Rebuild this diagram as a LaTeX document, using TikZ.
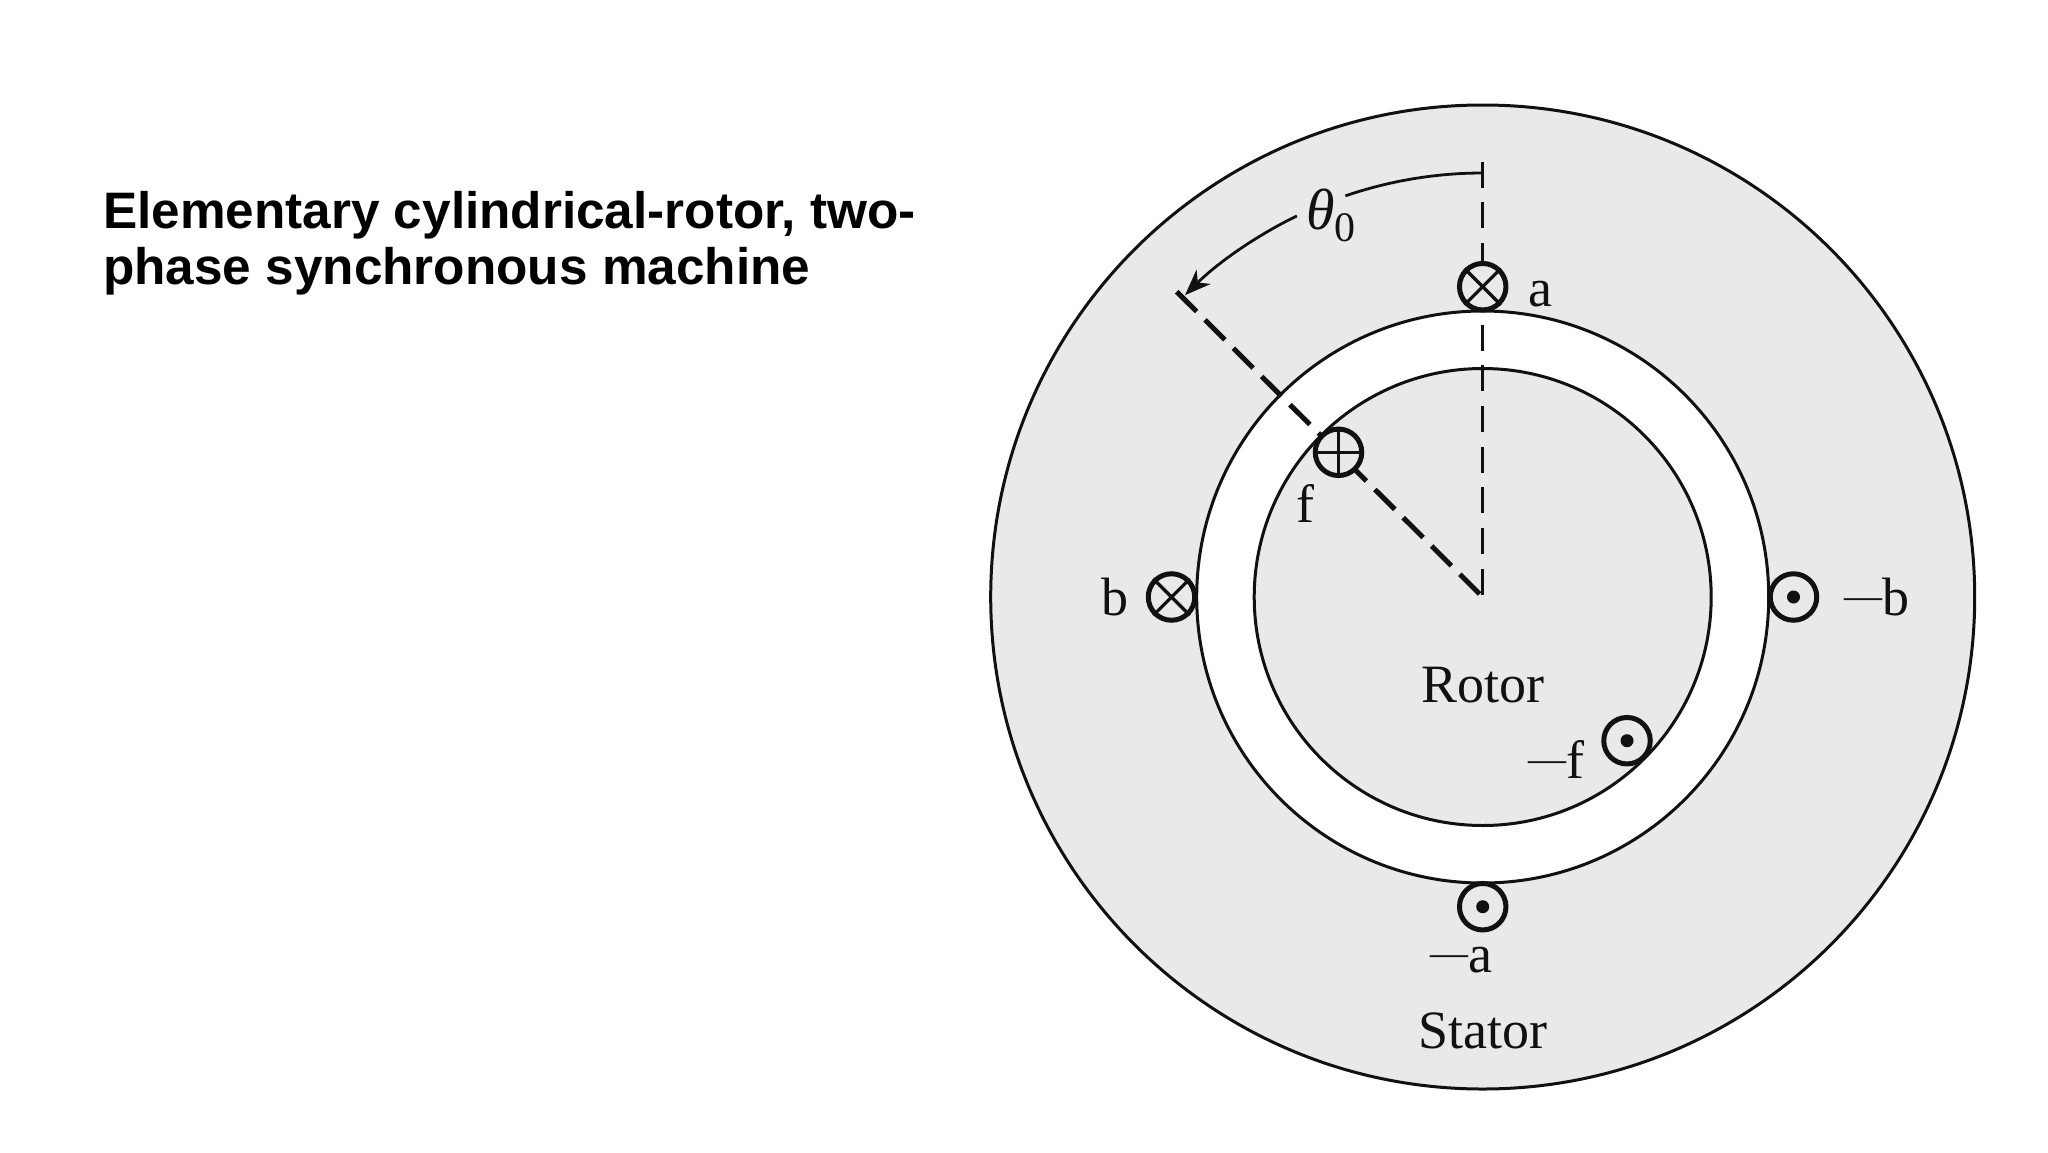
\documentclass[tikz,border=0pt]{standalone}
\usepackage{fontspec}
\setmainfont{Liberation Serif}
\newfontfamily\titlefont{Liberation Sans}
\usetikzlibrary{arrows.meta}
\definecolor{coreGrey}{HTML}{E9E9E9}
\definecolor{ink}{HTML}{111111}
\newcommand{\labelsize}{\fontsize{54}{54}\selectfont}
\newcommand{\dashbar}{\raisebox{7pt}{\fontsize{38}{38}\selectfont —}}
\tikzset{
  x=1pt,y=-1pt,
  ring/.style={draw=ink,line width=3pt},
  conductor/.style={circle,draw=ink,fill=coreGrey,line width=5pt,inner sep=0pt,minimum size=46.5pt},
  crossline/.style={draw=ink,line width=3.2pt},
  dotmark/.style={circle,fill=ink,inner sep=0pt,minimum size=13pt},
  lbl/.style={text=ink,font=\labelsize,inner sep=0pt,anchor=base},
  refline/.style={draw=ink,line width=3pt,dash pattern=on 26pt off 14.7pt},
  rotorline/.style={draw=ink,line width=5pt,dash pattern=on 28pt off 12pt},
  anglearc/.style={draw=ink,line width=2.8pt}
}
\begin{document}
\begin{tikzpicture}
\useasboundingbox (0,0) rectangle (2048,1152);
\fill[white] (0,0) rectangle (2048,1152);
\coordinate (c) at (1482.7,597);
\coordinate (top) at (1482.7,161.7);
\coordinate (end) at (1176.7,291.7);
\fill[coreGrey] (c) circle[radius=492];
\draw[ring] (c) circle[radius=492];
\draw[ring,fill=white] (c) circle[radius=286];
\draw[ring,fill=coreGrey] (c) circle[radius=228.5];
\draw[refline] (top) -- (c);
\draw[rotorline] (end) -- (c);
\draw[anglearc] (c) ++(-90:424) arc[start angle=-90,end angle=-108.9,radius=424];
\draw[anglearc,-{Stealth[length=26pt,width=20pt,inset=8pt]}] (c) ++(-116:424) arc[start angle=-116,end angle=-134.6,radius=424];
\node[conductor] (a) at (1482.7,286.7) {};
\node[conductor] (b) at (1171.5,597) {};
\node[conductor] (mb) at (1793.5,597) {};
\node[conductor] (ma) at (1482.7,906.7) {};
\node[conductor] (f) at (1338.5,452.3) {};
\node[conductor] (mf) at (1627,740.7) {};
\draw[crossline] (a.45) -- (a.225) (a.135) -- (a.315);
\draw[crossline] (b.45) -- (b.225) (b.135) -- (b.315);
\draw[crossline] (f.0) -- (f.180) (f.90) -- (f.270);
\node[dotmark] (mbd) at (mb) {};
\node[dotmark] (mad) at (ma) {};
\node[dotmark] (mfd) at (mf) {};
\node[lbl] (la) at (1540.7,306) {a};
\node[lbl] (lb) at (1115,615) {b};
\node[lbl] (lmb) at (1877,615) {\dashbar b};
\node[lbl] (lf) at (1305,522) {f};
\node[lbl] (lmf) at (1556,778) {\dashbar f};
\node[lbl] (lma) at (1461,972) {\dashbar a};
\node[lbl] (rot) at (1483,702.5) {Rotor};
\node[lbl] (sta) at (1483,1048) {Stator};
\node[lbl] (th) at (1331,229) {\fontsize{58}{58}\selectfont\textit{θ}\raisebox{-12pt}{\fontsize{42}{42}\selectfont 0}};
\node[anchor=base west,inner sep=0pt,font=\titlefont\bfseries\fontsize{51.3}{56}\selectfont,text=black] (t1) at (103,228) {Elementary cylindrical-rotor, two-};
\node[anchor=base west,inner sep=0pt,font=\titlefont\bfseries\fontsize{51.3}{56}\selectfont,text=black] (t2) at (103,284) {phase synchronous machine};
\end{tikzpicture}
\end{document}
